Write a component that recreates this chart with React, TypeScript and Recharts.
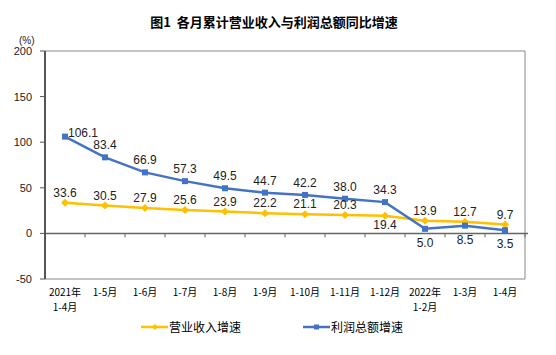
import { LineChart, Line, XAxis, YAxis, ReferenceLine, ReferenceArea, Legend, LabelList } from "recharts";

const months = [
  "2021年\n1-4月", "1-5月", "1-6月", "1-7月", "1-8月", "1-9月",
  "1-10月", "1-11月", "1-12月", "2022年\n1-2月", "1-3月", "1-4月",
];
const revenueGrowth = [33.6, 30.5, 27.9, 25.6, 23.9, 22.2, 21.1, 20.3, 19.4, 13.9, 12.7, 9.7];
const profitGrowth = [106.1, 83.4, 66.9, 57.3, 49.5, 44.7, 42.2, 38.0, 34.3, 5.0, 8.5, 3.5];
const yTicks = [-50, 0, 50, 100, 150, 200];

const data = months.map((m, i) => ({ month: m, revenue: revenueGrowth[i], profit: profitGrowth[i] }));

const BLUE = "#4472C4";
const YELLOW = "#FFC000";
const CJK = "'Noto Sans CJK SC', sans-serif";
const NUM = "'Liberation Sans', Arial, sans-serif";

// which labels sit under their point instead of above it
const revenueBelow = [8];
const profitBelow = [9, 10, 11];

function MonthTick(props: any) {
  const { x, y, payload } = props;
  const lines = String(payload.value).split("\n");
  return (
    <g>
      {lines.map((l, i) => (
        <text key={i} x={x} y={y + 9 + i * 14.5} textAnchor="middle" fontSize={10} fontFamily={CJK} fill="#000">
          {l}
        </text>
      ))}
    </g>
  );
}

// zero line with small ticks between categories
function ZeroLine(props: any) {
  const { x1, y1, x2 } = props;
  const step = (x2 - x1) / months.length;
  return (
    <g>
      <line x1={x1} y1={y1} x2={x2 + 3} y2={y1} stroke="#666" strokeWidth={1.5} />
      {months.map((_, i) => (
        <line key={i} x1={x1 + step * (i + 1)} y1={y1} x2={x1 + step * (i + 1)} y2={y1 + 4} stroke="#666" />
      ))}
    </g>
  );
}

function Square(props: any) {
  const { cx, cy } = props;
  return <rect x={cx - 3} y={cy - 3} width={6} height={6} fill={BLUE} />;
}

function Diamond(props: any) {
  const { cx, cy } = props;
  return <path d={`M${cx},${cy - 4} L${cx + 4},${cy} L${cx},${cy + 4} L${cx - 4},${cy} Z`} fill={YELLOW} />;
}

function makeLabel(below: number[], up: number, down: number, first?: boolean) {
  return (props: any) => {
    const { x, y, value, index } = props;
    if (first && index === 0) {
      return (
        <text x={x + 3} y={y} fontSize={12} fontFamily={NUM} fill="#222">{Number(value).toFixed(1)}</text>
      );
    }
    const isBelow = below.includes(index);
    return (
      <text x={x} y={isBelow ? y + down : y - up} textAnchor="middle" fontSize={12} fontFamily={NUM} fill="#222">
        {Number(value).toFixed(1)}
      </text>
    );
  };
}

function LegendBox() {
  const item = (color: string, label: string, diamond: boolean) => (
    <div style={{ display: "flex", alignItems: "center" }}>
      <svg width={28} height={10}>
        <line x1={0} y1={5} x2={27} y2={5} stroke={color} strokeWidth={2.5} />
        {diamond ? (
          <path d="M14,2 L17,5 L14,8 L11,5 Z" fill={color} />
        ) : (
          <rect x={11} y={2.5} width={5} height={5} fill={color} />
        )}
      </svg>
      <span style={{ fontSize: 12, fontFamily: CJK, color: "#000", lineHeight: "20px" }}>{label}</span>
    </div>
  );
  return (
    <div style={{ display: "flex", justifyContent: "center", gap: 62, paddingLeft: 14, height: 20 }}>
      {item(YELLOW, "营业收入增速", true)}
      {item(BLUE, "利润总额增速", false)}
    </div>
  );
}

export default function App() {
  return (
    <div style={{ position: "absolute", left: 0, top: 0, width: 556, height: 355, background: "#fff" }}>
      <div
        style={{
          position: "absolute", left: 0, width: 548, top: 12, textAlign: "center",
          fontFamily: CJK, fontSize: 13, fontWeight: 700, color: "#000", whiteSpace: "pre",
        }}
      >
        {"图1  各月累计营业收入与利润总额同比增速"}
      </div>
      <div style={{ position: "absolute", left: 19, top: 35, fontSize: 10, fontFamily: NUM, color: "#222" }}>(%)</div>
      <LineChart width={556} height={355} data={data} margin={{ top: 51, right: 31, left: 5, bottom: 18 }}>
        <ReferenceArea y1={-50} y2={200} fill="none" stroke="#888" strokeWidth={1} ifOverflow="visible" />
        <XAxis
          dataKey="month"
          scale="band"
          interval={0}
          height={38}
          axisLine={false}
          tickLine={false}
          tick={<MonthTick />}
        />
        <YAxis
          width={40}
          domain={[-50, 200]}
          ticks={yTicks}
          interval={0}
          axisLine={{ stroke: "#555", strokeWidth: 2 }}
          tickLine={{ stroke: "#555" }}
          tickSize={5}
          tickMargin={8}
          tick={{ fontSize: 11, fontFamily: NUM, fill: "#222" }}
        />
        <ReferenceLine y={0} shape={<ZeroLine />} />
        <Line
          type="linear"
          dataKey="revenue"
          name="营业收入增速"
          stroke={YELLOW}
          strokeWidth={2.5}
          dot={<Diamond />}
          isAnimationActive={false}
        >
          <LabelList dataKey="revenue" content={makeLabel(revenueBelow, 6, 13)} />
        </Line>
        <Line
          type="linear"
          dataKey="profit"
          name="利润总额增速"
          stroke={BLUE}
          strokeWidth={2.5}
          dot={<Square />}
          isAnimationActive={false}
        >
          <LabelList dataKey="profit" content={makeLabel(profitBelow, 8, 18, true)} />
        </Line>
        <Legend verticalAlign="bottom" height={20} content={<LegendBox />} />
      </LineChart>
    </div>
  );
}
